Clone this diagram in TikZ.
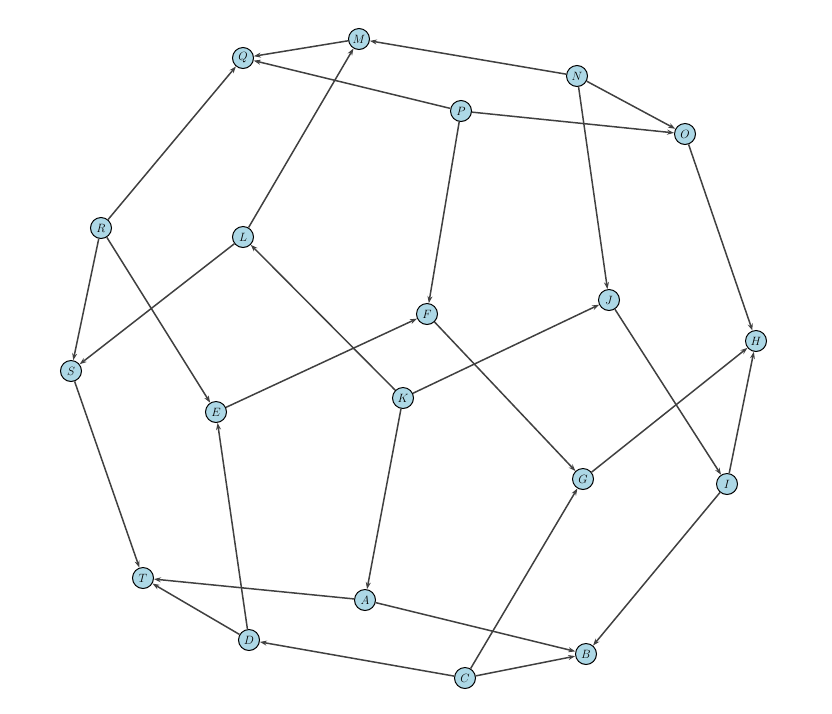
\documentclass[tikz,border=0pt]{standalone}
\usetikzlibrary{arrows.meta}
\begin{document}
\begin{tikzpicture}[x=1pt,y=-1pt,
  vtx/.style={circle,draw=black,line width=1pt,fill={rgb,255:red,173;green,216;blue,230},minimum size=21pt,inner sep=0pt,font=\fontsize{13}{15}\selectfont},
  edge/.style={draw={rgb,255:red,64;green,64;blue,64},line width=1.5pt,-{Stealth[length=7pt,width=5pt]}}]
\useasboundingbox (0,0) rectangle (832,713);
\node[vtx] (Q) at (243,58) {$Q$};
\node[vtx] (M) at (359,39) {$M$};
\node[vtx] (N) at (577,76) {$N$};
\node[vtx] (P) at (461,111) {$P$};
\node[vtx] (O) at (685,134) {$O$};
\node[vtx] (R) at (101,228) {$R$};
\node[vtx] (L) at (243,237) {$L$};
\node[vtx] (J) at (609,300) {$J$};
\node[vtx] (F) at (427,314) {$F$};
\node[vtx] (H) at (756,341) {$H$};
\node[vtx] (S) at (71,371) {$S$};
\node[vtx] (E) at (216,412) {$E$};
\node[vtx] (K) at (403,398) {$K$};
\node[vtx] (G) at (583,479) {$G$};
\node[vtx] (I) at (727,484) {$I$};
\node[vtx] (T) at (143,578) {$T$};
\node[vtx] (A) at (365,600) {$A$};
\node[vtx] (D) at (249,640) {$D$};
\node[vtx] (B) at (586,654) {$B$};
\node[vtx] (C) at (465,678) {$C$};
\foreach \a/\b in {M/Q,N/M,N/O,N/J,P/Q,P/O,P/F,R/Q,R/S,R/E,L/M,L/S,O/H,J/I,F/G,K/L,K/J,K/A,E/F,G/H,I/H,I/B,S/T,A/T,A/B,D/T,D/E,C/D,C/B,C/G}
  \draw[edge] (\a) -- (\b);
\end{tikzpicture}
\end{document}
